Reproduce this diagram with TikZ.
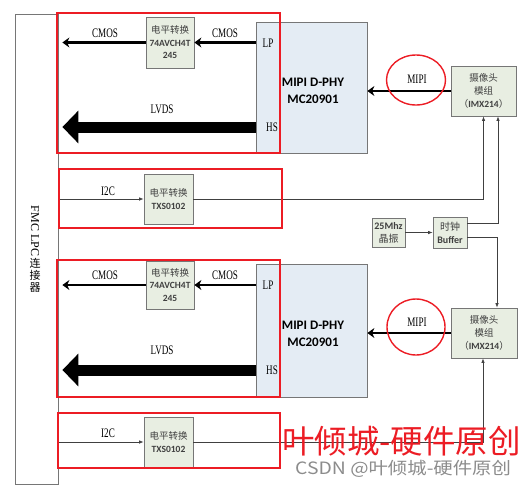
\documentclass[tikz,border=0pt]{standalone}
\usepackage{fontspec}
\usepackage{graphicx}
\usepackage{tikz}
\usetikzlibrary{arrows.meta, shapes.geometric, positioning}

\newfontfamily\cjk{Noto Sans CJK SC}
\newfontfamily\calib{Carlito}
\newfontfamily\sigfont{Liberation Serif}
\definecolor{boxgreen}{RGB}{232,238,226}
\definecolor{phyblue}{RGB}{228,236,244}
\definecolor{edgegray}{RGB}{118,118,118}
\definecolor{markred}{RGB}{236,28,36}
\newcommand{\cn}[1]{{\cjk\mdseries #1}}
\newcommand{\sig}[1]{\scalebox{0.7}[1]{#1}}

\tikzset{
  chip/.style={draw=edgegray, fill=boxgreen, line width=0.8pt, inner sep=0pt,
               align=center, text=black!75,
               font=\calib\bfseries\fontsize{9.5}{12.5}\selectfont},
  phy/.style={draw=edgegray, fill=phyblue, line width=0.8pt, inner sep=0pt},
  frame/.style={draw=markred, line width=1.6pt, inner sep=0pt},
  ring/.style={ellipse, draw=markred, line width=1.4pt, inner sep=0pt},
  sig/.style={font=\sigfont\fontsize{13}{15}\selectfont, inner sep=1pt},
  bus/.style={line width=2.4pt, -{Stealth[length=7pt,width=10pt]}},
  lvds/.style={line width=11pt, -{Triangle[length=16pt,width=32pt]}},
  ctl/.style={draw=black!75, line width=0.7pt, -{Latex[length=4.5pt,width=3.5pt]}},
}

\begin{document}
\begin{tikzpicture}[x=1pt, y=-1pt]
  \useasboundingbox (0,0) rectangle (526,488);

  % FMC LPC connector
  \node[draw=edgegray, line width=0.8pt, inner sep=0pt,
        minimum width=43pt, minimum height=470pt] (fmc) at (36.5,249) {};
  \node[font=\sigfont\fontsize{12}{13}\selectfont, rotate=-90] (fmcname) at (35,231) {FMC LPC};
  \node[font=\cjk\fontsize{11}{12}\selectfont, align=center] (fmccn) at (35,275) {连\\接\\器};

  % Channel 1: D-PHY and level shifter
  \node[phy, minimum width=111pt, minimum height=131pt] (phy1) at (311.5,87.5) {};
  \node[font=\calib\bfseries\fontsize{13}{17}\selectfont, align=center] (phyname1) at (313,91) {MIPI D-PHY\\MC20901};
  \node[sig] (lp1) at (268,43) {\sig{LP}};
  \node[sig] (hs1) at (272,127) {\sig{HS}};
  \node[chip, minimum width=48pt, minimum height=51pt] (lvl1) at (170,42.5) {\cn{电平转换}\\74AVCH4T\\245};
  \node[sig] (cmosin1) at (225,33) {\sig{CMOS}};
  \node[sig] (cmosout1) at (105,33) {\sig{CMOS}};
  \node[sig] (lvdslbl1) at (162,109) {\sig{LVDS}};
  \draw[bus] (phy1.west |- lvl1) -- (lvl1.east);
  \draw[bus, shorten >=4pt] (lvl1.west) -- (fmc.east |- lvl1);
  \draw[lvds, shorten >=4pt] (phy1.west |- hs1) -- (fmc.east |- hs1);

  % Camera 1
  \node[chip, minimum width=65pt, minimum height=50pt,
        font=\calib\bfseries\fontsize{9.5}{13}\selectfont] (cam1) at (483.5,91) {\cn{摄像头}\\\cn{模组}\\\cn{（}IMX214\cn{）}};
  \draw[bus] (cam1.west) -- (cam1.west -| phy1.east);
  \node[ring, minimum width=59pt, minimum height=50pt] (ring1) at (416,80) {};
  \node[sig] (mipi1) at (417,79) {\sig{MIPI}};

  % I2C 1
  \node[chip, minimum width=49pt, minimum height=50pt] (ls1) at (168.5,199) {\cn{电平转换}\\TXS0102};
  \node[sig] (i2c1) at (108,191) {\sig{I2C}};
  \draw[ctl] (fmc.east |- ls1) -- (ls1.west);
  \draw[ctl] (ls1.east) -| (cam1.south);

  % Clock
  \node[chip, minimum width=33pt, minimum height=29pt,
        font=\calib\bfseries\fontsize{10}{13}\selectfont] (xtal) at (388.5,232.5) {25Mhz\\\cn{晶振}};
  \node[chip, minimum width=34pt, minimum height=31pt,
        font=\calib\bfseries\fontsize{10}{13}\selectfont] (buf) at (450,232.5) {\cn{时钟}\\Buffer};
  \draw[ctl] (xtal) -- (buf);
  \draw[ctl] ([yshift=9.5pt]buf.east) -| ([xshift=14.5pt]cam1.south);

  % Channel 2: D-PHY and level shifter
  \node[phy, minimum width=111pt, minimum height=133pt] (phy2) at (311.5,330.5) {};
  \node[font=\calib\bfseries\fontsize{13}{17}\selectfont, align=center] (phyname2) at (313,334) {MIPI D-PHY\\MC20901};
  \node[sig] (lp2) at (268,285) {\sig{LP}};
  \node[sig] (hs2) at (272,370) {\sig{HS}};
  \node[chip, minimum width=48pt, minimum height=48pt] (lvl2) at (170,285) {\cn{电平转换}\\74AVCH4T\\245};
  \node[sig] (cmosin2) at (225,275) {\sig{CMOS}};
  \node[sig] (cmosout2) at (105,275) {\sig{CMOS}};
  \node[sig] (lvdslbl2) at (162,350) {\sig{LVDS}};
  \draw[bus] (phy2.west |- lvl2) -- (lvl2.east);
  \draw[bus, shorten >=4pt] (lvl2.west) -- (fmc.east |- lvl2);
  \draw[lvds, shorten >=4pt] (phy2.west |- hs2) -- (fmc.east |- hs2);

  % Camera 2
  \node[chip, minimum width=66pt, minimum height=50pt,
        font=\calib\bfseries\fontsize{9.5}{13}\selectfont] (cam2) at (484,333) {\cn{摄像头}\\\cn{模组}\\\cn{（}IMX214\cn{）}};
  \draw[bus] (cam2.west) -- (cam2.west -| phy2.east);
  \node[ring, minimum width=58pt, minimum height=56pt] (ring2) at (416,327) {};
  \node[sig] (mipi2) at (417,322) {\sig{MIPI}};
  \draw[ctl] ([yshift=-4.5pt]buf.east) -| ([xshift=13pt]cam2.north);

  % I2C 2
  \node[chip, minimum width=49pt, minimum height=50pt] (ls2) at (168.5,442) {\cn{电平转换}\\TXS0102};
  \node[sig] (i2c2) at (108,433) {\sig{I2C}};
  \draw[ctl] (fmc.east |- ls2) -- (ls2.west);
  \draw[ctl] (ls2.east) -| ([xshift=-1pt]cam2.south);

  % Red frames
  \node[frame, minimum width=223pt, minimum height=140pt] (frm1) at (168.5,83) {};
  \node[frame, minimum width=223pt, minimum height=59pt] (frm2) at (170.5,198.5) {};
  \node[frame, minimum width=223pt, minimum height=137pt] (frm3) at (168.5,328.5) {};
  \node[frame, minimum width=222pt, minimum height=55pt] (frm4) at (169,440.5) {};

  % Marks
  \node[font=\cjk\fontsize{32.5}{34}\selectfont, text=markred, anchor=west, inner sep=0pt] (mark) at (282,441) {叶倾城-硬件原创};
  \node[font=\cjk\fontsize{17}{19}\selectfont, text=black!45, anchor=west, inner sep=0pt] (csdn) at (295,469) {\scalebox{1.14}[1]{CSDN @叶倾城-硬件原创}};
\end{tikzpicture}
\end{document}
